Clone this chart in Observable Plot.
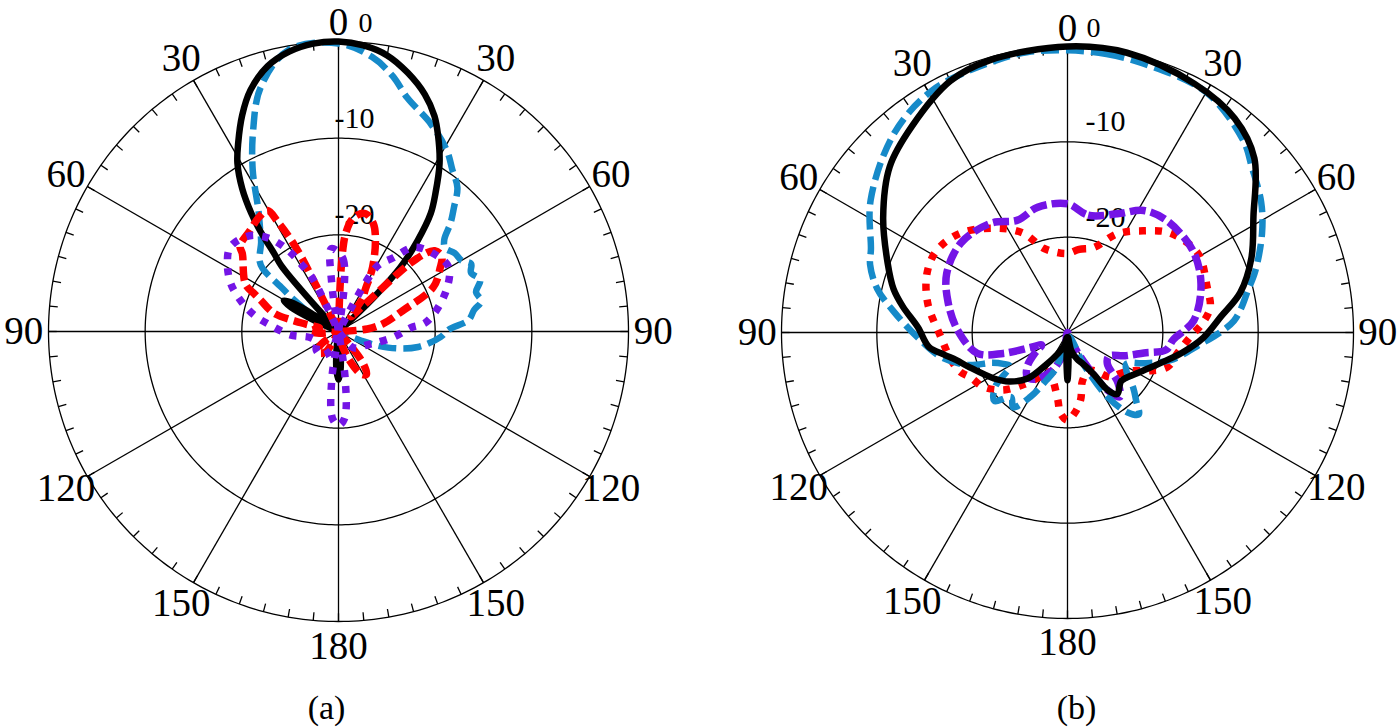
<!DOCTYPE html>
<html>
<head>
<meta charset="utf-8">
<script src="https://cdn.jsdelivr.net/npm/d3@7"></script>
<script src="https://cdn.jsdelivr.net/npm/@observablehq/plot@0.6"></script>
<style>
  html, body { margin: 0; padding: 0; background: #fff; }
  #wrap { display: flex; width: 1400px; height: 728px; }
  #wrap > div, #wrap svg { display: block; }
</style>
</head>
<body>
<div id="wrap"><div id="pa"></div><div id="pb"></div></div>
<script>
// ---------- axis definitions ----------
const angleTicks = [0, 30, 60, 90, 120, 150, 180, 210, 240, 270, 300, 330];
const angleTickLabels = ["0", "30", "60", "90", "120", "150", "180", "150", "120", "90", "60", "30"];
const ringDb = [-20, -10, 0];
const ringLabels = ["-20", "-10", "0"];
const DB_MIN = -30;

// ---------- panel (a) ----------
const aBlackAng = [0, 5, 10, 15, 20, 24, 27, 31, 35, 38, 41, 44, 46, 48, 170, 174, 177, 180, 183, 186, 190, 292, 295, 297, 299.5, 302, 304, 306, 317, 318, 319, 320.5, 322, 323.6, 326, 329, 332, 336, 340, 345, 350, 355];
const aBlackDb  = [0, -0.3, -1.0, -2.3, -3.9, -5.6, -7.3, -9.7, -12.5, -14.5, -17.5, -20.8, -25, -30, -30, -28, -26, -25, -26, -28, -30, -30, -27, -24.5, -23.5, -24.5, -27, -30, -30, -25, -21, -19.5, -17, -14.8, -12.2, -9.7, -7.9, -5.5, -3.4, -1.6, -0.6, -0.1];

const aBlueAng = [0, 7, 12, 16.4, 24, 31, 35, 39.6, 43, 46, 49, 52, 56, 60, 63, 66, 70, 74, 78, 81, 85, 89, 93, 101, 108, 112, 118, 298, 302, 305.7, 307.5, 309.7, 312, 315, 319, 323, 326.5, 332, 337, 342.3, 350];
const aBlueDb  = [-0.2, -1.4, -3, -4.8, -6.5, -8.2, -9.5, -10.7, -12.5, -13.9, -15.5, -16, -15.5, -15.3, -14.6, -15, -14.4, -15.2, -14.9, -15.8, -16.5, -18.6, -19.4, -21.6, -24.6, -27.5, -30, -30, -26.8, -24.1, -22.7, -19.8, -19, -18.5, -17.8, -16.5, -15, -11.1, -7.4, -3.5, -0.4];

const aRedAng = [0, 2, 4, 8, 13, 18, 22, 28, 33, 36, 40, 44, 47, 50, 54, 58, 65, 72, 80, 85, 90, 135, 142, 147, 152, 160, 168, 175, 205, 212, 222, 232, 240, 258, 265, 270, 275, 280, 283, 286, 292, 294, 297, 309, 311, 319, 325, 329.6, 331, 333, 334, 336];
const aRedDb  = [-30, -30, -20, -18, -17.5, -18.3, -19.8, -22.5, -25, -25.7, -28, -26, -19, -17, -16.8, -17.6, -19.2, -23, -25.3, -27, -30, -30, -26, -24.7, -25, -27, -29, -30, -30, -27.5, -27, -27.5, -30, -30, -28, -27, -27.5, -28, -26, -23, -21.3, -20.5, -19.2, -17.2, -16.5, -16.1, -15.6, -15.5, -17, -20, -25, -30];

const aPurpleAng = [0, 4, 7, 9, 26, 29, 31, 36.6, 41.8, 50.6, 59.8, 71, 84, 87, 96, 109, 120, 132, 140, 150, 168, 172, 176, 180, 184, 188, 192, 200, 215, 230, 245, 258, 266, 275, 281, 287.5, 294, 301, 308, 317.2, 323.4, 328, 331, 334, 338, 350, 352, 355];
const aPurpleDb  = [-21.8, -22.6, -25, -30, -30, -24, -22, -20.5, -18.3, -17.3, -16.8, -18.4, -20.9, -22.5, -24.3, -26.2, -27, -27.4, -28, -30, -30, -25, -21, -20.3, -21, -25, -30, -28, -27, -27, -27.5, -27, -25, -23, -21.1, -19.4, -17.8, -16.6, -15.8, -16.5, -18, -20, -22, -24, -30, -30, -25, -21.4];

// ---------- panel (b) ----------
const bBlackAng = [0, 12, 27, 38, 47, 58, 68, 77, 84, 92, 100, 108, 120, 132, 141, 145, 148, 155, 160, 168, 175, 178, 180, 182, 185, 195, 205, 213, 221, 230, 238, 251, 256, 260, 264, 272, 279, 284, 291, 302, 313, 323, 335, 344];
const bBlackDb  = [0, 0, -0.7, -1.5, -3.2, -7, -9.2, -11.4, -13.8, -15.7, -17.8, -19.7, -21.5, -22.4, -21.7, -22.6, -24.9, -26.5, -27, -28, -29.5, -27, -25, -27, -29.5, -28.5, -27.5, -26.1, -23.6, -22, -20.9, -19, -18, -16.8, -15.4, -14.3, -12.5, -11.2, -9.8, -7.2, -4.5, -2.9, -0.9, -0.3];

const bBlueAng = [0, 8, 16, 30, 42.5, 48, 56, 63, 72, 77, 82, 86, 90, 95, 105, 112, 118, 124, 130, 135, 139, 143, 148, 153, 160, 190, 198, 204, 210, 216, 221, 227, 233, 240, 244, 248, 252, 259, 268, 277, 283, 289, 293, 304, 319, 331, 345, 352];
const bBlueDb  = [-0.4, -0.5, -0.7, -0.9, -2.7, -4, -5.5, -7.1, -9.3, -10.6, -11.6, -12.5, -14, -16, -18.8, -21.4, -23, -22.5, -21, -19.8, -18.6, -19.5, -22, -26, -29.5, -29, -26, -24.5, -22.2, -20.3, -21, -19.5, -20.5, -23, -22.5, -21.5, -19, -16.5, -14.3, -11.6, -9.5, -8.1, -7.6, -5.1, -2.3, -0.9, -0.5, -0.3];

const bRedAng = [0, 8, 17, 26.8, 36.7, 46, 58.7, 72, 80, 86, 92, 100, 109, 115, 120, 128, 136, 146, 155, 160, 164, 169, 175, 180, 185, 188, 195, 203, 212, 219.5, 228, 237, 245, 250, 256, 268, 282, 293, 302, 313, 326, 336, 344, 352];
const bRedDb  = [-21.7, -21.2, -20.7, -18.4, -16.7, -15, -14, -14.6, -14.8, -15.8, -17.1, -18.2, -18.9, -20.5, -22, -23, -23.5, -25.2, -25.5, -25, -24.5, -22.8, -21.5, -20.8, -21.5, -22.8, -24.5, -25.5, -24.5, -23, -21, -19.5, -18.8, -18, -17.5, -16.7, -15, -14, -13.8, -14.7, -16.8, -18.6, -20.8, -21.5];

const bPurpleAng = [0, 10, 22.8, 32, 41.8, 57, 70, 84.6, 94, 100, 105, 112, 120, 128, 135, 141, 146, 150, 158, 175, 190, 200, 207, 215, 222, 230, 238, 244, 248, 252, 257, 271, 284, 296, 310, 325, 336, 346.5];
const bPurpleDb  = [-16.5, -17.5, -16.5, -14.9, -14.3, -14.3, -15.1, -16.7, -18.9, -19.5, -21.7, -23.5, -25, -24.7, -22.5, -21.3, -23, -26, -29, -30, -28, -26, -25, -24, -23.7, -24.5, -26, -27, -25.8, -22.9, -20.3, -18.5, -17.1, -15.9, -15.4, -16, -17.1, -16.5];

// ---------- helpers ----------
const DEG = Math.PI / 180;
const SPAN = -DB_MIN;
const radOf = db => Math.max(0, db - DB_MIN);
const px = d => radOf(d.db) * Math.sin(d.a * DEG);
const py = d => radOf(d.db) * Math.cos(d.a * DEG);
const rows = (angs, dbs) => angs.map((a, i) => ({a, db: dbs[i]}));
const FONT = '"Liberation Serif", "Times New Roman", Times, "DejaVu Serif", serif';

function polarChart(cfg) {
  const {cx, cy, R, series, radialDx, zeroDx, caption, captionDx} = cfg;
  const circleAngles = d3.range(0, 360, 1);
  const rings = ringDb.flatMap(db => circleAngles.map(a => ({a, db})));
  const tickAngles = d3.range(0, 360, 5);
  const tickLen = 0.85;
  const labelR = SPAN + 2.55;
  const angleLabels = angleTicks.map((a, i) => ({a, label: angleTickLabels[i]}));
  const radial = ringDb.map((db, i) => ({a: 0, db, label: ringLabels[i]}));
  const angleText = {
    x: d => labelR * Math.sin(d.a * DEG), y: d => labelR * Math.cos(d.a * DEG),
    text: "label", fontSize: 39, fontFamily: FONT, textAnchor: "middle", lineAnchor: "middle", fill: "#000"
  };

  const marks = [
    Plot.line(rings, {x: px, y: py, z: "db", stroke: "#000", strokeWidth: 1.3, curve: "linear-closed"}),
    Plot.link(angleTicks, {x1: 0, y1: 0, x2: a => SPAN * Math.sin(a * DEG), y2: a => SPAN * Math.cos(a * DEG), stroke: "#000", strokeWidth: 1.3}),
    Plot.link(tickAngles, {
      x1: a => SPAN * Math.sin(a * DEG), y1: a => SPAN * Math.cos(a * DEG),
      x2: a => (SPAN - tickLen) * Math.sin(a * DEG), y2: a => (SPAN - tickLen) * Math.cos(a * DEG),
      stroke: "#000", strokeWidth: 1.3
    }),
    Plot.text(angleLabels.filter(d => d.a !== 0), angleText),
    Plot.text(angleLabels.filter(d => d.a === 0), {...angleText, dy: 6}),
    Plot.text(radial.filter(d => d.db !== 0), {
      x: px, y: py, text: "label", fontSize: 30, fontFamily: FONT, textAnchor: "start", lineAnchor: "middle",
      dx: radialDx, dy: -20, fill: "#000"
    }),
    Plot.text(radial.filter(d => d.db === 0), {
      x: px, y: py, text: "label", fontSize: 28, fontFamily: FONT, textAnchor: "start", lineAnchor: "middle",
      dx: zeroDx, dy: -18, fill: "#000"
    })
  ];
  for (const s of series) {
    marks.push(Plot.line(s.data, {
      x: px, y: py, stroke: s.color, strokeWidth: s.width, strokeDasharray: s.dash,
      strokeLinecap: "butt", strokeLinejoin: "round", curve: "catmull-rom-closed"
    }));
  }
  marks.push(Plot.text([caption], {
    frameAnchor: "bottom", text: d => d, fontSize: 34, fontFamily: FONT,
    lineAnchor: "middle", dx: captionDx, dy: -20, fill: "#000"
  }));

  return Plot.plot({
    width: 700, height: 728, margin: 0,
    style: {fontFamily: FONT, background: "#fff", overflow: "visible"},
    x: {domain: [-SPAN, SPAN], range: [cx - R, cx + R], axis: null},
    y: {domain: [-SPAN, SPAN], range: [cy + R, cy - R], axis: null},
    marks
  });
}

const BLACK = "#000000", BLUE = "#168ac9", RED = "#ff0000", PURPLE = "#7414e6";

document.getElementById("pa").appendChild(polarChart({
  cx: 338, cy: 331, R: 290, radialDx: -4, zeroDx: 20, caption: "(a)", captionDx: -24,
  series: [
    {data: rows(aBlueAng, aBlueDb), color: BLUE, width: 6.5, dash: "18,7"},
    {data: rows(aBlackAng, aBlackDb), color: BLACK, width: 6.5, dash: null},
    {data: rows(aRedAng, aRedDb), color: RED, width: 7.5, dash: "14,6"},
    {data: rows(aPurpleAng, aPurpleDb), color: PURPLE, width: 7.5, dash: "7,9"}
  ]
}));

document.getElementById("pb").appendChild(polarChart({
  cx: 367, cy: 332, R: 286, radialDx: 18, zeroDx: 19, caption: "(b)", captionDx: 26,
  series: [
    {data: rows(bRedAng, bRedDb), color: RED, width: 7.5, dash: "7,9"},
    {data: rows(bPurpleAng, bPurpleDb), color: PURPLE, width: 7.5, dash: "16,5"},
    {data: rows(bBlueAng, bBlueDb), color: BLUE, width: 6.5, dash: "18,7"},
    {data: rows(bBlackAng, bBlackDb), color: BLACK, width: 6.5, dash: null}
  ]
}));
</script>
</body>
</html>
